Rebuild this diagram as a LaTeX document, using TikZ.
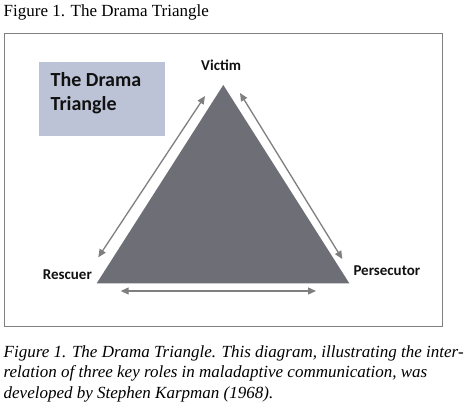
\documentclass[tikz,border=0pt]{standalone}
\usepackage{fontspec}
\setmainfont{Liberation Serif}
\newfontfamily\labfont{Carlito}
\usetikzlibrary{arrows.meta}
\definecolor{framegray}{HTML}{808080}
\definecolor{boxfill}{HTML}{BDC3D6}
\definecolor{trifill}{HTML}{6E6F76}
\definecolor{arrgray}{HTML}{7F7F7F}
\definecolor{txtdark}{HTML}{111111}
\tikzset{
  role/.style={anchor=base west, inner sep=0pt, font=\labfont\bfseries\fontsize{15}{18}\selectfont, text=txtdark},
  boxtext/.style={anchor=base west, inner sep=0pt, font=\labfont\bfseries\fontsize{20}{24}\selectfont, text=txtdark},
  serifline/.style={anchor=base west, inner sep=0pt, font=\rmfamily\fontsize{17}{20}\selectfont, text=black},
  capline/.style={anchor=base west, inner sep=0pt, font=\rmfamily\itshape\fontsize{17}{20}\selectfont, text=black},
  flow/.style={draw=arrgray, line width=1.3pt, {Triangle[length=8pt,width=7pt]}-{Triangle[length=8pt,width=7pt]}},
}
\begin{document}
\begin{tikzpicture}[x=1pt,y=-1pt]
\useasboundingbox (0,0) rectangle (474,415);
\fill[white] (0,0) rectangle (474,415);
% title
\node[serifline] (title) at (3.5,16.7) {Figure 1. The Drama Triangle};
% frame
\draw[framegray, line width=1pt] (4.5,33.5) rectangle (442.7,326);
% title box
\fill[boxfill] (39,61.7) rectangle (165,135.7);
\node[boxtext] (bt1) at (50.5,86.7) {The Drama};
\node[boxtext] (bt2) at (50.5,110) {Triangle};
% triangle
\coordinate (apex) at (223.3,85);
\coordinate (bl) at (96.7,283.3);
\coordinate (br) at (349.3,283.3);
\fill[trifill] (apex) -- (bl) -- (br) -- cycle;
% labels
\node[role] (victim) at (201,70.7) {Victim};
\node[role] (rescuer) at (42.7,279.3) {Rescuer};
\node[role] (persecutor) at (353.3,275.3) {Persecutor};
% arrows
\coordinate (la) at (98.3,257.3);
\coordinate (lb) at (205,96);
\coordinate (ra) at (240,93);
\coordinate (rb) at (342.3,259);
\coordinate (ba) at (120.7,291);
\coordinate (bb) at (316,291);
\draw[flow] (la) -- (lb);
\draw[flow] (ra) -- (rb);
\draw[flow] (ba) -- (bb);
% caption
\node[capline] (cap1) at (3.5,357.7) {Figure 1. The Drama Triangle. This diagram, illustrating the inter-};
\node[capline] (cap2) at (3.5,377.7) {relation of three key roles in maladaptive communication, was};
\node[capline] (cap3) at (3.5,398.3) {developed by Stephen Karpman (1968).};
\end{tikzpicture}
\end{document}
